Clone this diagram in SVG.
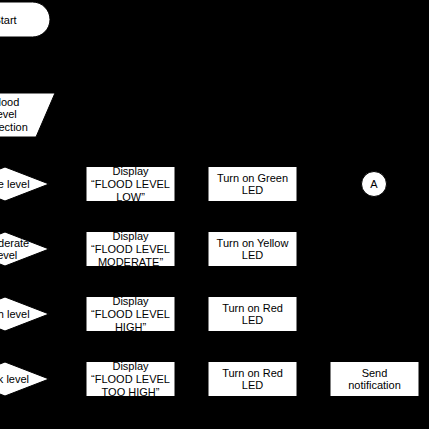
<svg xmlns="http://www.w3.org/2000/svg" width="429" height="429" viewBox="0 0 429 429">
<style>
.shape{fill:#ffffff;stroke:#000000;stroke-width:1}
.t{font-family:"Liberation Sans",Arial,Helvetica,sans-serif;font-size:11px;fill:#000000;text-anchor:middle}
.edge{fill:none;stroke:#000000;stroke-width:1}
</style>
<defs>
<marker id="arr" viewBox="0 0 10 10" refX="9" refY="5" markerWidth="7" markerHeight="7" orient="auto" markerUnits="userSpaceOnUse">
<path d="M0,1 L9,5 L0,9 L2.5,5 Z" fill="#000000"/>
</marker>
</defs>
<rect x="0" y="0" width="429" height="429" fill="#000000"/>

<g id="connectors">
<path class="edge" d="M5,37 L5,92" marker-end="url(#arr)"/>
<path class="edge" d="M5,137 L5,166" marker-end="url(#arr)"/>
<path class="edge" d="M5,201 L5,231" marker-end="url(#arr)"/>
<path class="edge" d="M5,266 L5,296" marker-end="url(#arr)"/>
<path class="edge" d="M5,331 L5,361" marker-end="url(#arr)"/>
<path class="edge" d="M49,184 L85,184" marker-end="url(#arr)"/>
<path class="edge" d="M49,249 L85,249" marker-end="url(#arr)"/>
<path class="edge" d="M49,314 L85,314" marker-end="url(#arr)"/>
<path class="edge" d="M49,379 L85,379" marker-end="url(#arr)"/>
<path class="edge" d="M175,184 L207,184" marker-end="url(#arr)"/>
<path class="edge" d="M175,249 L207,249" marker-end="url(#arr)"/>
<path class="edge" d="M175,314 L207,314" marker-end="url(#arr)"/>
<path class="edge" d="M175,379 L207,379" marker-end="url(#arr)"/>
<path class="edge" d="M297,184 L360.5,184" marker-end="url(#arr)"/>
<path class="edge" d="M297,379 L329,379" marker-end="url(#arr)"/>
</g>

<g id="start">
<rect class="shape" x="-40" y="2" width="90" height="35" rx="17.5" ry="17.5"/>
<text class="t" x="5" y="24">Start</text>
</g>

<g id="input">
<polygon class="shape" points="-25,93 55,93 36,137 -44,137"/>
<text class="t" x="5.5"><tspan x="5.5" y="105.5">Flood</tspan><tspan x="5.5" y="118.2">level</tspan><tspan x="5.5" y="130.8">detection</tspan></text>
</g>

<g id="dec1">
<polygon class="shape" points="5,167 49,184 5,201 -39,184"/>
<text class="t" x="5.5" y="188">Safe level</text>
</g>
<g id="dec2">
<polygon class="shape" points="5,232 49,249 5,266 -39,249"/>
<text class="t"><tspan x="6" y="246.5">Moderate</tspan><tspan x="6" y="259">level</tspan></text>
</g>
<g id="dec3">
<polygon class="shape" points="5,297 49,314 5,331 -39,314"/>
<text class="t" x="5.5" y="318">High level</text>
</g>
<g id="dec4">
<polygon class="shape" points="5,362 49,379 5,396 -39,379"/>
<text class="t" x="5.5" y="383">Risk level</text>
</g>

<g id="disp1">
<rect class="shape" x="86" y="166.5" width="89" height="35"/>
<text class="t"><tspan x="130.5" y="175.3">Display</tspan><tspan x="130.5" y="188">“FLOOD LEVEL</tspan><tspan x="130.5" y="200.6">LOW”</tspan></text>
</g>
<g id="disp2">
<rect class="shape" x="86" y="231.5" width="89" height="35"/>
<text class="t"><tspan x="130.5" y="240.3">Display</tspan><tspan x="130.5" y="253">“FLOOD LEVEL</tspan><tspan x="130.5" y="265.6">MODERATE”</tspan></text>
</g>
<g id="disp3">
<rect class="shape" x="86" y="296.5" width="89" height="35"/>
<text class="t"><tspan x="130.5" y="305.3">Display</tspan><tspan x="130.5" y="318">“FLOOD LEVEL</tspan><tspan x="130.5" y="330.6">HIGH”</tspan></text>
</g>
<g id="disp4">
<rect class="shape" x="86" y="361.5" width="89" height="35"/>
<text class="t"><tspan x="130.5" y="370.3">Display</tspan><tspan x="130.5" y="383">“FLOOD LEVEL</tspan><tspan x="130.5" y="395.6">TOO HIGH”</tspan></text>
</g>

<g id="led1">
<rect class="shape" x="208" y="166.5" width="89" height="35"/>
<text class="t"><tspan x="252.5" y="181.5">Turn on Green</tspan><tspan x="252.5" y="194.1">LED</tspan></text>
</g>
<g id="led2">
<rect class="shape" x="208" y="231.5" width="89" height="35"/>
<text class="t"><tspan x="252.5" y="246.5">Turn on Yellow</tspan><tspan x="252.5" y="259.1">LED</tspan></text>
</g>
<g id="led3">
<rect class="shape" x="208" y="296.5" width="89" height="35"/>
<text class="t"><tspan x="252.5" y="311.5">Turn on Red</tspan><tspan x="252.5" y="324.1">LED</tspan></text>
</g>
<g id="led4">
<rect class="shape" x="208" y="361.5" width="89" height="35"/>
<text class="t"><tspan x="252.5" y="376.5">Turn on Red</tspan><tspan x="252.5" y="389.1">LED</tspan></text>
</g>

<g id="connA">
<circle class="shape" cx="374" cy="184" r="12.5"/>
<text class="t" x="374" y="188">A</text>
</g>

<g id="notify">
<rect class="shape" x="330" y="361.5" width="89" height="35"/>
<text class="t"><tspan x="374.5" y="376.5">Send</tspan><tspan x="374.5" y="389.1">notification</tspan></text>
</g>
</svg>
